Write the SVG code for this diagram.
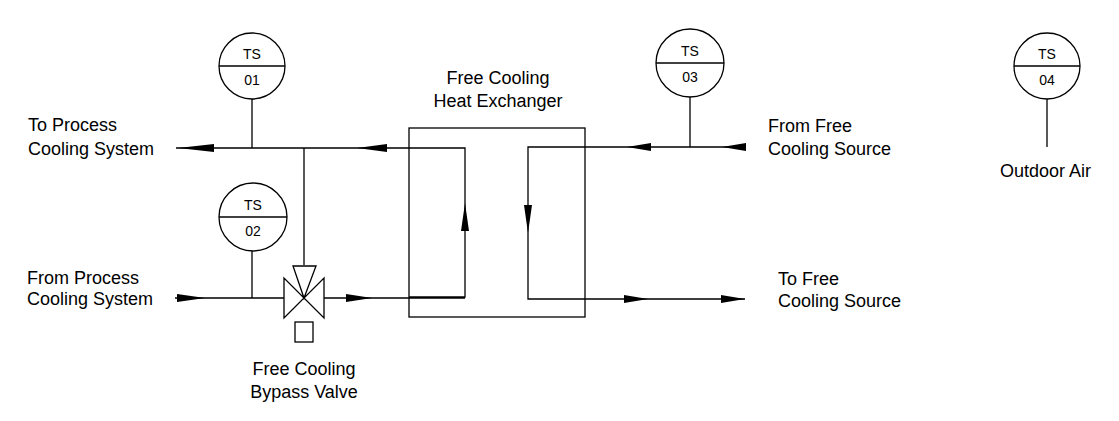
<svg xmlns="http://www.w3.org/2000/svg" width="1119" height="421" viewBox="0 0 1119 421">
<style>
.l{stroke:#000;stroke-width:1.3;fill:none}
.c{stroke:#000;stroke-width:1.3;fill:#fff}
.a{fill:#000}
text{font-family:"Liberation Sans",Arial,sans-serif;fill:#000}
.t{font-size:18px}
.s{font-size:14px;text-anchor:middle}
</style>
<rect width="1119" height="421" fill="#fff"/>
<g id="connectors">
<path class="l" d="M176 148H465V297H409M304 148V265M252 99V148M252 251V298M175 298H284M324 298H465"/>
<path class="l" d="M745 147H528V299H745M690 97V147"/>
<path class="a" d="M178 148l36-4v8zM357 148l30-4v8zM205 298l-28-4v8zM372 298l-26-4v8zM465 203l-4 28h8zM528 233l-4-28h8zM627 147l24-4v8zM722 147l24-4v8zM648 299l-24-4v8zM745 299l-24-4v8z"/>
</g>
<g id="hx"><rect class="l" x="409" y="128" width="176" height="189"/>
<text class="t" x="498" y="84" text-anchor="middle">Free Cooling</text><text class="t" x="498" y="107" text-anchor="middle">Heat Exchanger</text></g>
<g id="valve">
<path class="c" d="M284 278V318L324 278V318ZM293 266H316L304 298Z"/>
<rect class="c" x="295" y="322" width="18" height="20"/>
<text class="t" x="304" y="375" text-anchor="middle">Free Cooling</text><text class="t" x="304" y="398" text-anchor="middle">Bypass Valve</text></g>
<g id="ts01"><circle class="c" cx="252" cy="66" r="33"/><path class="l" d="M219 66H285"/><text class="s" x="252" y="59">TS</text><text class="s" x="252" y="85">01</text></g>
<g id="ts02"><circle class="c" cx="253" cy="217" r="34"/><path class="l" d="M219 217H287"/><text class="s" x="253" y="210">TS</text><text class="s" x="253" y="236">02</text></g>
<g id="ts03"><circle class="c" cx="690" cy="63" r="34"/><path class="l" d="M656 63H724"/><text class="s" x="690" y="56">TS</text><text class="s" x="690" y="82">03</text></g>
<g id="ts04"><circle class="c" cx="1047" cy="66" r="33"/><path class="l" d="M1014 66H1080M1047 99V147"/><text class="s" x="1047" y="59">TS</text><text class="s" x="1047" y="85">04</text>
<text class="t" x="1000" y="177">Outdoor Air</text></g>
<g id="labels">
<text class="t" x="28" y="131">To Process</text><text class="t" x="28" y="155">Cooling System</text>
<text class="t" x="27" y="284">From Process</text><text class="t" x="27" y="305">Cooling System</text>
<text class="t" x="768" y="132">From Free</text><text class="t" x="768" y="155">Cooling Source</text>
<text class="t" x="778" y="285">To Free</text><text class="t" x="778" y="307">Cooling Source</text>
</g>
</svg>
